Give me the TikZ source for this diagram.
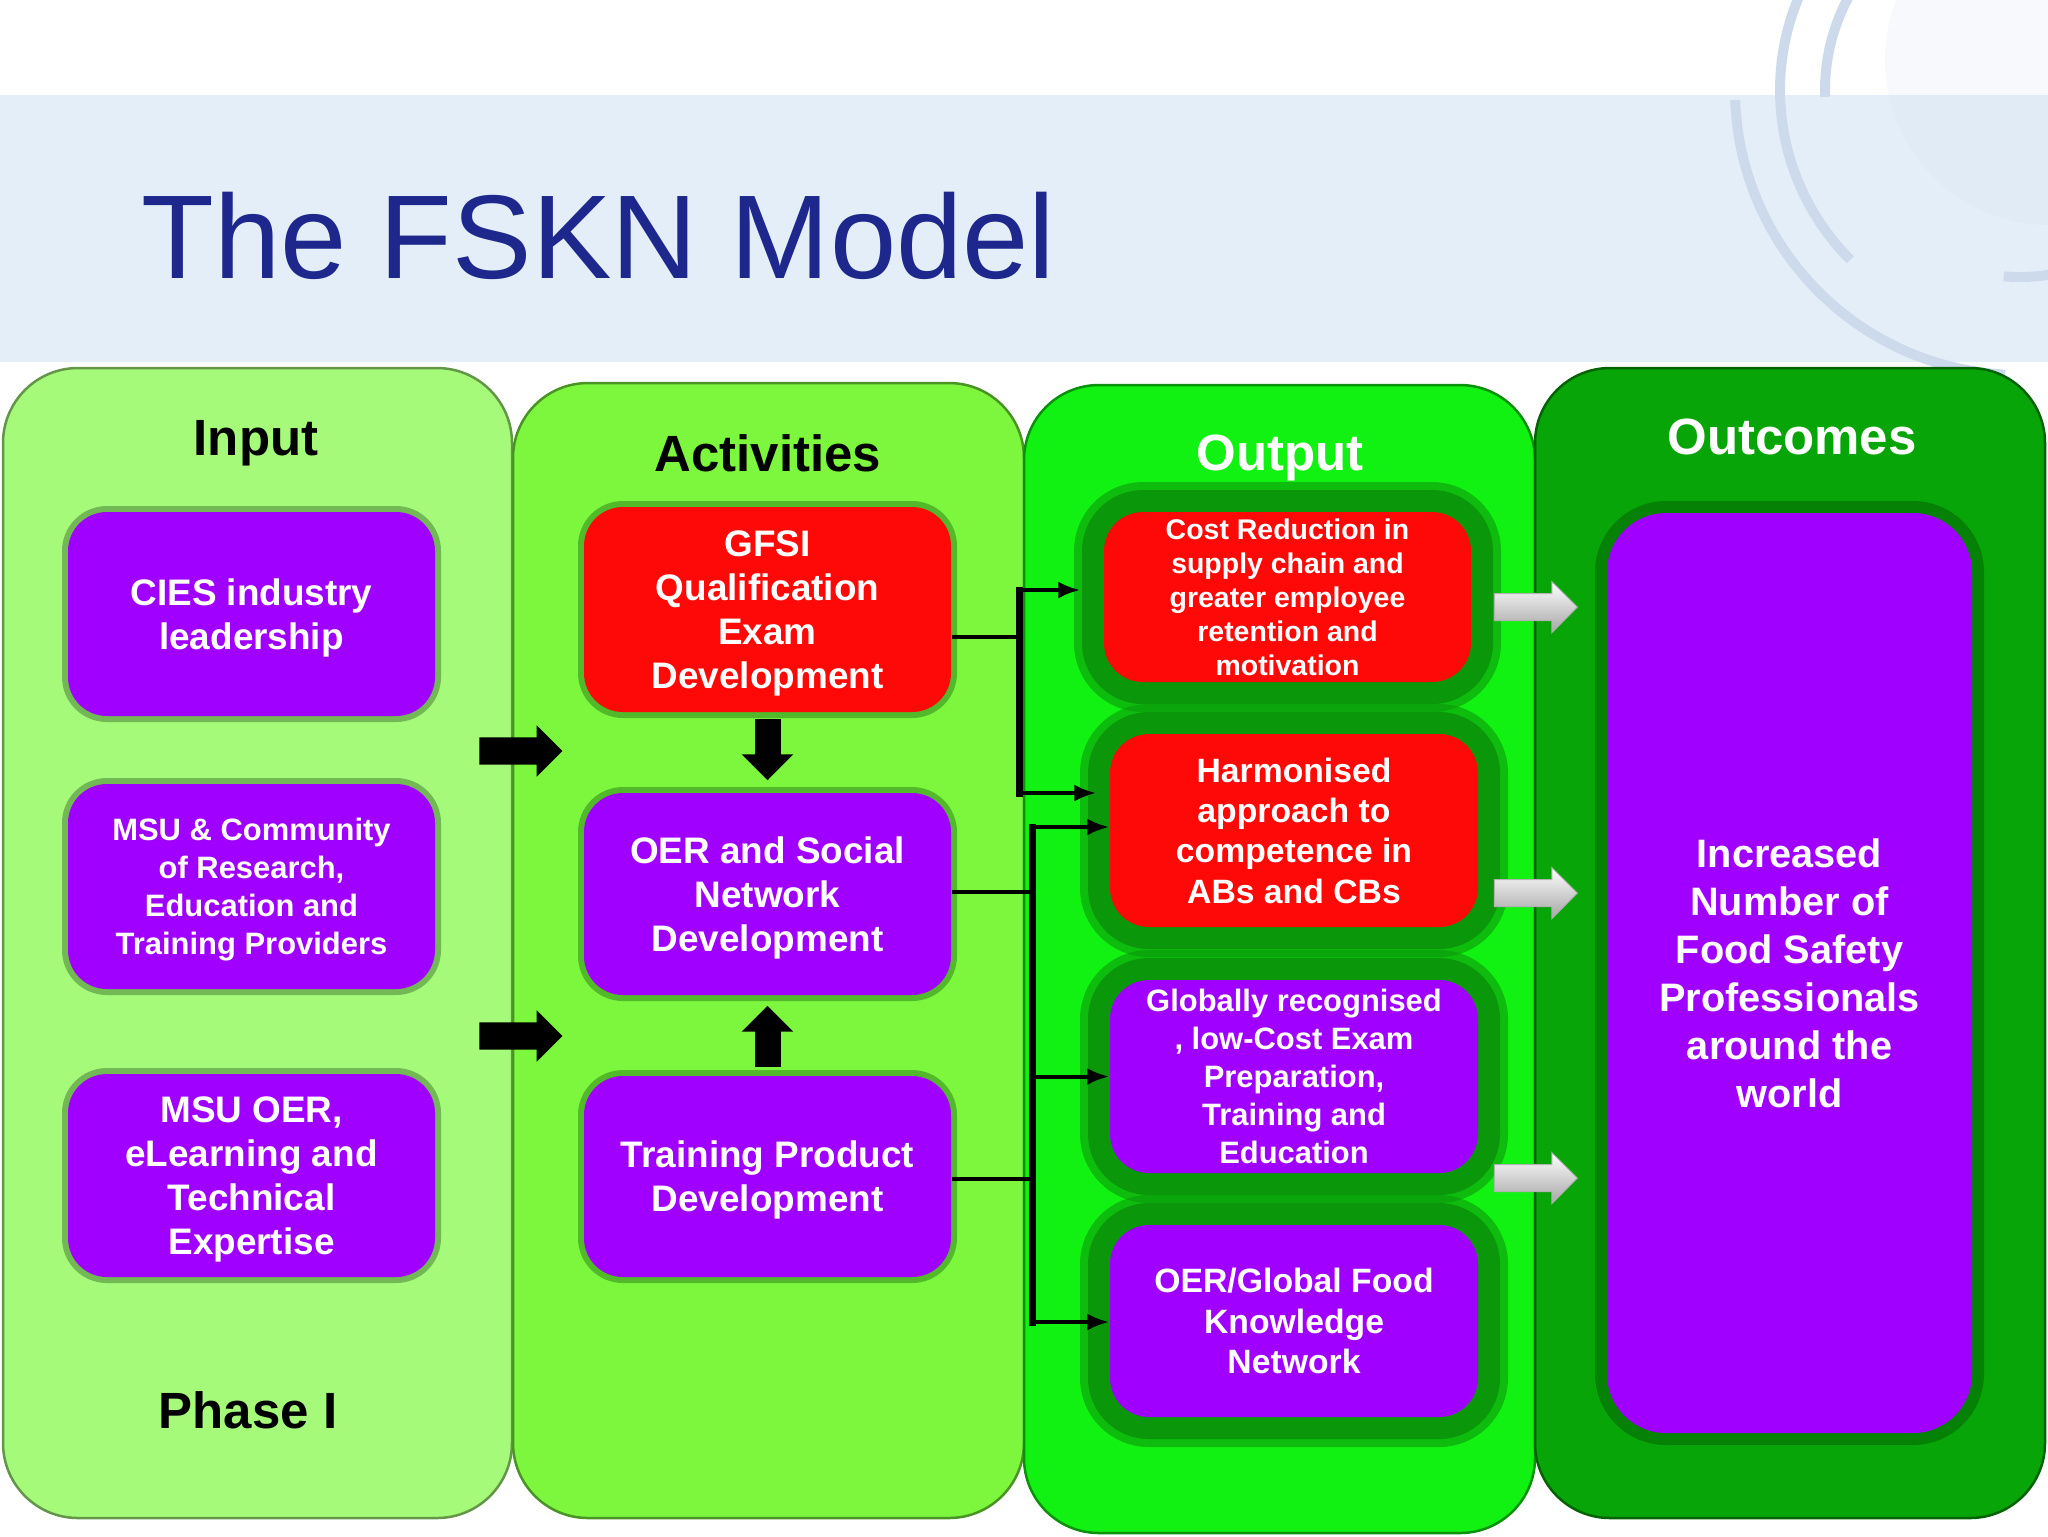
\documentclass[tikz,border=0pt]{standalone}
\usepackage{fontspec}
\setmainfont{Liberation Sans}
\usetikzlibrary{arrows.meta,shapes.arrows,positioning}
\definecolor{bandblue}{RGB}{228,238,248}
\definecolor{titleblue}{RGB}{30,40,140}
\definecolor{ringblue}{RGB}{205,218,236}
\definecolor{inputgreen}{RGB}{166,250,122}
\definecolor{actgreen}{RGB}{124,247,62}
\definecolor{outgreen}{RGB}{18,242,18}
\definecolor{outcgreen}{RGB}{8,165,8}
\definecolor{halogreen}{RGB}{10,152,10}
\definecolor{inshadow}{RGB}{80,140,60}
\definecolor{actshadow}{RGB}{55,145,30}
\definecolor{outcshadow}{RGB}{5,115,5}
\definecolor{boxpurple}{RGB}{160,0,255}
\definecolor{boxred}{RGB}{255,8,8}

\begin{document}
\begin{tikzpicture}[
  x=0.1mm, y=-0.1mm,
  colbox/.style={draw=#1!60!black, line width=0.25mm, fill=#1, rounded corners=7.5mm,
                 inner sep=0pt},
  colhead/.style={font=\fontsize{14.5}{17}\selectfont\bfseries},
  card/.style={fill=#1, rounded corners=3.9mm, minimum width=36.7mm, text=white,
               align=center, inner sep=0pt, text depth=0pt},
  txtXS/.style={font=\fontsize{8.1}{9.7}\selectfont\bfseries},
  txtS/.style={font=\fontsize{8.8}{10.8}\selectfont\bfseries},
  txtM/.style={font=\fontsize{9.6}{11.5}\selectfont\bfseries},
  txtL/.style={font=\fontsize{10.5}{12.5}\selectfont\bfseries},
  txtXL/.style={font=\fontsize{11.3}{13.7}\selectfont\bfseries},
  inhalo/.style={preaction={draw=inshadow, line width=1.2mm, opacity=.6}},
  acthalo/.style={preaction={draw=actshadow, line width=1.2mm, opacity=.6}},
  outhalo/.style={preaction={draw=halogreen, line width=6mm, opacity=.6},
                  preaction={draw=halogreen, line width=4.4mm}},
  outchalo/.style={preaction={draw=outcshadow, line width=2.4mm, opacity=.7}},
  ring/.style={draw=ringblue, line width=1mm},
  wire/.style={draw=black, line width=0.4mm},
  bus/.style={draw=black, line width=0.7mm, line cap=rect},
  tip/.style={-{Latex[length=2.2mm,width=1.7mm]}},
  fat/.style={draw=black, line width=2.6mm, -{Triangle[width=5mm,length=2.6mm]}},
  blkarrow/.style={single arrow, draw=none, fill=black, minimum height=8.3mm,
                   inner xsep=0pt, inner ysep=1.3mm, single arrow head extend=1.2mm},
  greyarrow/.style={blkarrow, top color=white, bottom color=gray!70, draw=gray!60,
                    line width=0.1mm}
]
\useasboundingbox (0,0) rectangle (2048,1536);
%--- title band --------------------------------------------------------------
\fill[bandblue] (0,95) rectangle (2048,362);
\fill[ringblue, opacity=.15] (2050,60) circle (165);
\draw[ring] (2020,90) ++(178:285) arc (178:93:285);
\draw[ring] (2020,90) ++(205:240) arc (205:135:240);
\draw[ring] (2020,90) ++(210:195) arc (210:178:195);
\draw[ring] (2020,90) ++(95:187) arc (95:75:187);
\node[anchor=base west, inner sep=0pt, text=titleblue, font=\fontsize{33.9}{40}\selectfont]
  (title) at (141,278) {The FSKN Model};

%--- columns -----------------------------------------------------------------
\node[colbox=inputgreen, minimum width=50.9mm, minimum height=115mm] (colin) at (257.5,943) {};
\node[colbox=actgreen, minimum width=51.1mm, minimum height=113.5mm] (colact) at (768.5,950.5) {};
\node[colbox=outgreen, minimum width=51.1mm, minimum height=114.8mm] (colout) at (1279.5,959) {};
\node[colbox=outcgreen, minimum width=51mm, minimum height=115mm] (colouc) at (1790,943) {};
\node[colhead] (hin) at (256,443) {Input};
\node[colhead] (hact) at (768,453) {Activities};
\node[colhead, text=white] (hout) at (1280,458) {Output};
\node[colhead, text=white] (houc) at (1792,437) {Outcomes};
\node[colhead] (phase) at (248,1410) {Phase I};

%--- input -------------------------------------------------------------------
\node[card=boxpurple, inhalo, minimum height=20.4mm, txtL] (cies) at (251.5,614)
  {CIES industry\\leadership};
\node[card=boxpurple, inhalo, minimum height=20.5mm, txtS] (msu) at (251.5,886.5)
  {MSU \& Community\\of Research,\\Education and\\Training Providers};
\node[card=boxpurple, inhalo, minimum height=20.3mm, txtL] (tech) at (251.5,1175.5)
  {MSU OER,\\eLearning and\\Technical\\Expertise};
\node[blkarrow] (feedA) at (514,751) {};
\node[blkarrow] (feedB) at (514,1036) {};

%--- activities --------------------------------------------------------------
\node[card=boxred, acthalo, minimum height=20.5mm, txtL] (gfsi) at (767.5,609.5)
  {GFSI\\Qualification\\Exam\\Development};
\node[card=boxpurple, acthalo, minimum height=20.2mm, txtL] (oer) at (767.5,894)
  {OER and Social\\Network\\Development};
\node[card=boxpurple, acthalo, minimum height=20.1mm, txtL] (train) at (767.5,1176.5)
  {Training Product\\Development};
\draw[fat, shorten <=0.6mm, shorten >=1.2mm] (gfsi) -- (oer);
\draw[fat, shorten <=0.8mm, shorten >=1mm] (train) -- (oer);

%--- output ------------------------------------------------------------------
\node[card=boxred, outhalo, minimum height=17mm, txtXS] (cost) at (1287.5,597)
  {Cost Reduction in\\supply chain and\\greater employee\\retention and\\motivation};
\node[card=boxred, outhalo, minimum width=36.8mm, minimum height=19.3mm, txtM] (harm)
  at (1294,830.5) {Harmonised\\approach to\\competence in\\ABs and CBs};
\node[card=boxpurple, outhalo, minimum width=36.8mm, minimum height=19.3mm, txtS] (glob)
  at (1294,1076.5) {Globally recognised\\, low-Cost Exam\\Preparation,\\Training and\\Education};
\node[card=boxpurple, outhalo, minimum width=36.8mm, minimum height=19.2mm, txtM] (oerg)
  at (1294,1321) {OER/Global Food\\Knowledge\\Network};

%--- connectors --------------------------------------------------------------
\coordinate (busAj) at (1019,637);
\coordinate (busAt) at (1019,590);
\coordinate (busAb) at (1019,793);
\coordinate (busBj) at (1032,892);
\coordinate (busBk) at (1032,1179);
\coordinate (busBt) at (1032,827);
\coordinate (busBb) at (1032,1322);
\draw[wire] (gfsi.east|-busAj) -- (busAj);
\draw[bus] (busAt) -- (busAb);
\draw[wire, tip, shorten >=2.3mm] (busAt) -- (cost.west|-busAt);
\draw[wire, tip, shorten >=1.3mm] (busAb) -- (harm.west|-busAb);
\draw[wire] (oer.east|-busBj) -- (busBj);
\draw[wire] (train.east|-busBk) -- (busBk);
\draw[bus] (busBt) -- (busBb);
\draw[wire, tip] (busBt) -- (harm.west|-busBt);
\draw[wire, tip] (busBt|-glob.west) -- (glob.west);
\draw[wire, tip] (busBb) -- (oerg.west|-busBb);

%--- outcomes ----------------------------------------------------------------
\node[greyarrow] (liftA) at (1529,607) {};
\node[greyarrow] (liftB) at (1529,893) {};
\node[greyarrow] (liftC) at (1529,1178) {};
\node[card=boxpurple, rounded corners=5.9mm, outchalo, minimum width=36.5mm,
      minimum height=92mm, txtXL] (impact) at (1789.5,973)
  {Increased\\Number of\\Food Safety\\Professionals\\around the\\world};
\end{tikzpicture}
\end{document}
